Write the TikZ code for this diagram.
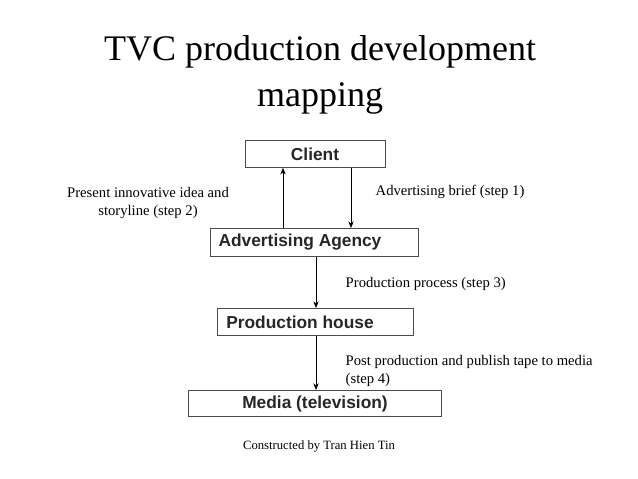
\documentclass[tikz,border=0pt]{standalone}
\usepackage{fontspec}
\setmainfont{Liberation Serif}
\newfontfamily\boxfont{Liberation Sans}
\usetikzlibrary{arrows.meta}
\begin{document}
\begin{tikzpicture}[x=0.75pt,y=-0.75pt,
  box/.style={draw=black!70,line width=0.6pt,inner sep=0pt,anchor=north west},
  btxt/.style={font=\boxfont\bfseries\fontsize{13}{15}\selectfont,text=black!85},
  lab/.style={font=\fontsize{11}{13.5}\selectfont,align=left},
  arr/.style={-{Stealth[length=5pt,width=4pt]},line width=0.5pt}]
\useasboundingbox (0,0) rectangle (638,478);
\node[font=\fontsize{27}{34}\selectfont,align=center] (title) at (320,75) {TVC production development\\mapping};
\node[box,minimum width=140*0.75pt,minimum height=27*0.75pt] (client) at (245,140) {};
\node[box,minimum width=208*0.75pt,minimum height=28*0.75pt] (agency) at (210,228) {};
\node[box,minimum width=196*0.75pt,minimum height=27*0.75pt] (prod) at (217,308) {};
\node[box,minimum width=253*0.75pt,minimum height=26*0.75pt] (media) at (188,390) {};
\node[btxt] (tc) at (315,154) {Client};
\node[btxt] (ta) at (300,242) {Advertising Agency};
\node[btxt] (tp) at (300,322) {Production house};
\node[btxt] (tm) at (315,404) {Media (television)};
\draw[arr] (agency.north -| 283,0) -- (client.south -| 283,0);
\draw[arr] (client.south -| 351,0) -- (agency.north -| 351,0);
\draw[arr] (agency.south -| 316,0) -- (prod.north -| 316,0);
\draw[arr] (prod.south -| 316,0) -- (media.north -| 316,0);
\node[lab,align=center] (l2) at (148,203) {Present innovative idea and\\storyline (step 2)};
\node[lab,anchor=west] (l1) at (371,192) {Advertising brief (step 1)};
\node[lab,anchor=west] (l3) at (341,284) {Production process (step 3)};
\node[lab,anchor=west] (l4) at (341,371) {Post production and publish tape to media\\(step 4)};
\node[font=\fontsize{9.5}{11}\selectfont] (foot) at (319,446) {Constructed by Tran Hien Tin};
\end{tikzpicture}
\end{document}
